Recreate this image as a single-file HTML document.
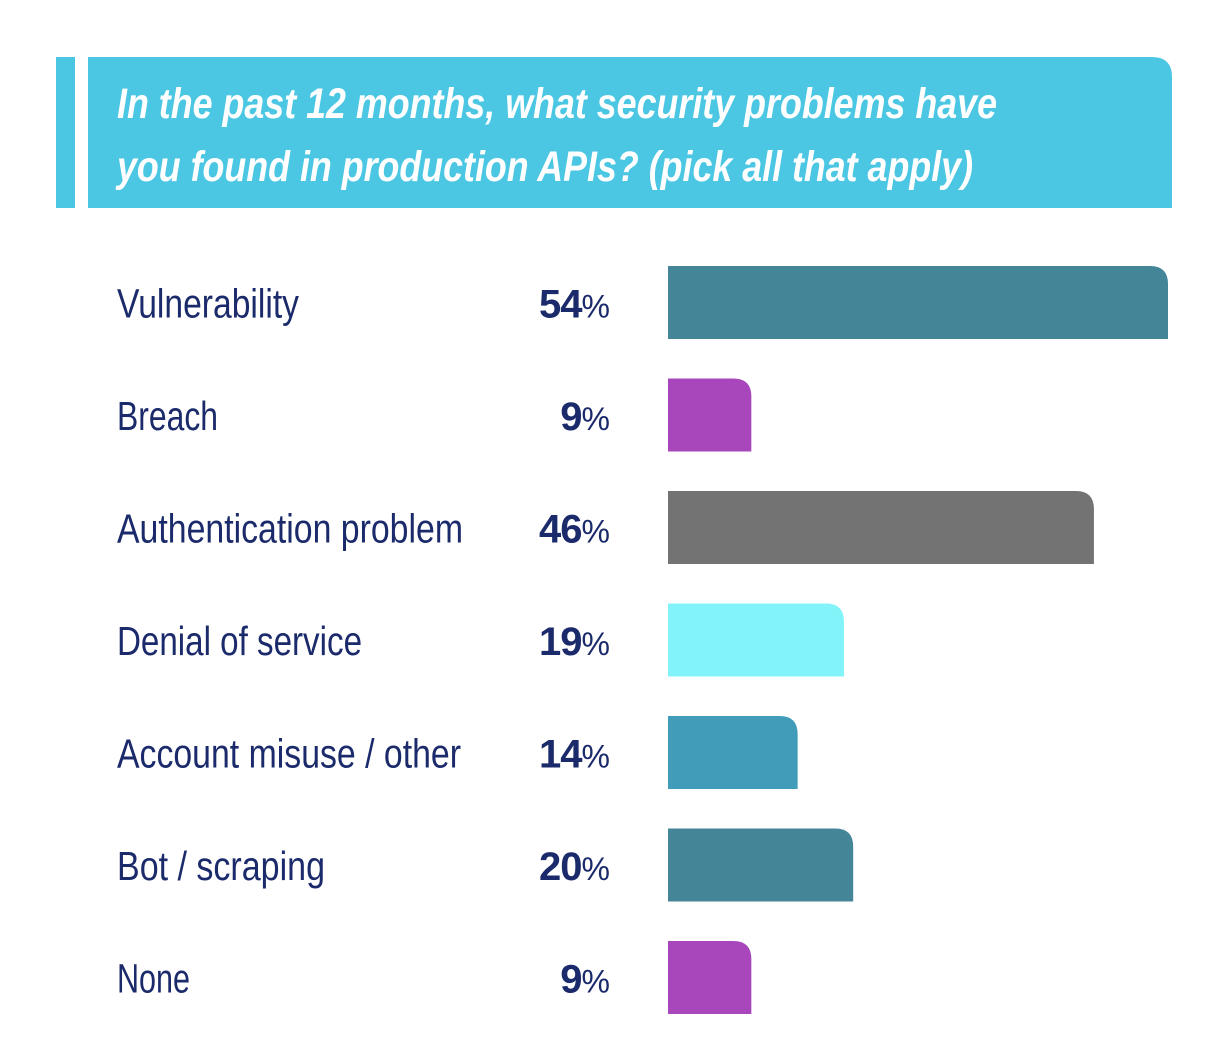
<!DOCTYPE html>
<html><head><meta charset="utf-8"><style>
html,body{margin:0;padding:0;background:#fff;}
svg{display:block;}
</style></head><body>
<svg width="1229" height="1063" viewBox="0 0 1229 1063" xmlns="http://www.w3.org/2000/svg">
  <rect x="56" y="57" width="19" height="151" fill="#4CC7E3"/>
  <path d="M88 57 H1152 Q1172 57 1172 77 V208 H88 Z" fill="#4CC7E3"/>
  <g font-family="'Liberation Sans Narrow','Liberation Sans',sans-serif" font-weight="bold" font-style="italic" fill="#fff" font-size="43">
    <text x="117" y="118" textLength="880" lengthAdjust="spacingAndGlyphs">In the past 12 months, what security problems have</text>
    <text x="117" y="181" textLength="856" lengthAdjust="spacingAndGlyphs">you found in production APIs? (pick all that apply)</text>
  </g>
  <g id="bars"></g>
</svg>
<script>
const categories = ["Vulnerability","Breach","Authentication problem","Denial of service","Account misuse / other","Bot / scraping","None"];
const values = [54, 9, 46, 19, 14, 20, 9];
const colors = ["#448597","#A846BB","#737373","#82F4F9","#419CB9","#448597","#A846BB"];
const labelWidths = [182, 101, 346, 245, 344, 208, 73];

const NS = "http://www.w3.org/2000/svg";
const g = document.getElementById("bars");
const x0 = 668, pxPerPct = 500/54, y0 = 266, step = 112.5, bh = 73, r = 18;
function xScale(v){ return v * pxPerPct; }
function yScale(i){ return y0 + i * step; }

categories.forEach((cat, i) => {
  const y = yScale(i), w = xScale(values[i]), cy = y + bh/2;
  const lab = document.createElementNS(NS, "text");
  lab.setAttribute("x", 117);
  lab.setAttribute("y", cy + 15);
  lab.setAttribute("font-family", "'Liberation Sans Narrow','Liberation Sans',sans-serif");
  lab.setAttribute("font-size", "41");
  lab.setAttribute("fill", "#1B2A6B");
  lab.setAttribute("textLength", labelWidths[i]);
  lab.setAttribute("lengthAdjust", "spacingAndGlyphs");
  lab.textContent = cat;
  
  
  g.appendChild(lab);

  const val = document.createElementNS(NS, "text");
  val.setAttribute("x", 610);
  val.setAttribute("y", cy + 15);
  val.setAttribute("text-anchor", "end");
  val.setAttribute("font-family", "'Liberation Sans Narrow','Liberation Sans',sans-serif");
  val.setAttribute("font-size", "40");
  val.setAttribute("fill", "#1B2A6B");
  const num = document.createElementNS(NS, "tspan");
  num.setAttribute("font-weight", "bold");
  num.setAttribute("letter-spacing", "-1");
  num.textContent = values[i];
  const pct = document.createElementNS(NS, "tspan");
  pct.setAttribute("font-size", "32");
  pct.textContent = "%";
  val.appendChild(num); val.appendChild(pct);
  
  
  g.appendChild(val);

  const rr = Math.min(r, w/2);
  const p = document.createElementNS(NS, "path");
  p.setAttribute("d", `M${x0} ${y} H${x0+w-rr} Q${x0+w} ${y} ${x0+w} ${y+rr} V${y+bh} H${x0} Z`);
  p.setAttribute("fill", colors[i]);
  
  
  g.appendChild(p);
});
</script>
</body></html>
